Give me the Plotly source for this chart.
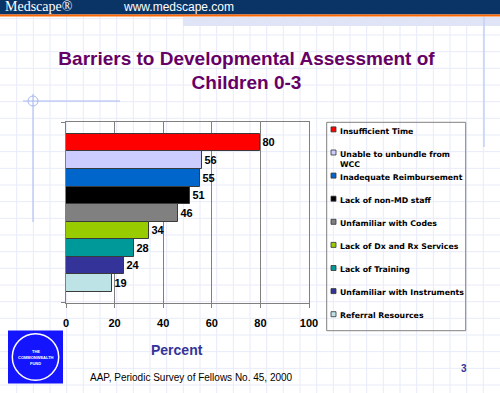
import plotly.graph_objects as go

categories = [
    "Insufficient Time",
    "Unable to unbundle from<br>WCC",
    "Inadequate Reimbursement",
    "Lack of non-MD staff",
    "Unfamiliar with Codes",
    "Lack of Dx and Rx Services",
    "Lack of Training",
    "Unfamiliar with Instruments",
    "Referral Resources",
]
values = [80, 56, 55, 51, 46, 34, 28, 24, 19]
colors = ["#ff0000", "#ccccff", "#0066cc", "#000000", "#808080",
          "#99cc00", "#009999", "#333399", "#bde3e6"]
x_ticks = [0, 20, 40, 60, 80, 100]

W, H = 500, 393
L, R, T, B = 66, 309, 122, 303  # plot area in pixels


def px(x):
    return (x - L) / (R - L)


def py(y):
    return (B - y) / (B - T)


positions = list(range(len(categories)))

fig = go.Figure()
fig.add_trace(go.Bar(
    y=positions, x=values, orientation="h", width=1,
    marker=dict(color=colors, line=dict(color="#3a3a3a", width=1)),
    text=values, textposition="outside", cliponaxis=False,
    textfont=dict(family="Liberation Sans, Arial", size=11, color="#000000", weight="bold"),
    showlegend=False, hoverinfo="skip",
))

shapes = []
# background grid
step = W / 30
segs = []
k = 1
while k * step < W:
    xx = k * step
    segs.append(f"M{px(xx):.5f},{py(0):.5f}L{px(xx):.5f},{py(H):.5f}")
    k += 1
k = 0
while 1.67 + k * step < H:
    yy = 1.67 + k * step
    segs.append(f"M{px(0):.5f},{py(yy):.5f}L{px(W):.5f},{py(yy):.5f}")
    k += 1
shapes.append(dict(type="path", path="".join(segs), xref="paper", yref="paper",
                   line=dict(color="#e8ebf9", width=1), layer="below"))
# header bar
shapes.append(dict(type="rect", xref="paper", yref="paper", x0=px(0), x1=px(W), y0=py(0), y1=py(14.5),
                   fillcolor="#0a3466", line_width=0, layer="below"))
shapes.append(dict(type="rect", xref="paper", yref="paper", x0=px(0), x1=px(W), y0=py(14.5), y1=py(16.5),
                   fillcolor="#ff6600", line_width=0, layer="below"))
# light band top right
shapes.append(dict(type="rect", xref="paper", yref="paper", x0=px(183), x1=px(W), y0=py(17), y1=py(26),
                   fillcolor="#dfe5f6", line_width=0, layer="below"))
# right decorative vertical line
shapes.append(dict(type="line", xref="paper", yref="paper", x0=px(484), x1=px(484), y0=py(17), y1=py(147),
                   line=dict(color="#c5d0f4", width=1.5), layer="below"))
# top-left decorative lines
shapes.append(dict(type="line", xref="paper", yref="paper", x0=px(23), x1=px(120), y0=py(101), y1=py(101),
                   line=dict(color="#a9b8f0", width=1), layer="below"))
shapes.append(dict(type="line", xref="paper", yref="paper", x0=px(33), x1=px(33), y0=py(94), y1=py(222),
                   line=dict(color="#a9b8f0", width=1), layer="below"))
shapes.append(dict(type="circle", xref="paper", yref="paper", x0=px(28), x1=px(38), y0=py(96), y1=py(106),
                   line=dict(color="#a9b8f0", width=1), layer="below"))
# legend box
lx0, lx1, ly0, ly1 = 326.7, 465.7, 122.3, 330.7
shapes.append(dict(type="rect", xref="paper", yref="paper", x0=px(lx0), x1=px(lx1), y0=py(ly0), y1=py(ly1),
                   line=dict(color="#808080", width=1), fillcolor="rgba(0,0,0,0)"))
# logo
shapes.append(dict(type="rect", xref="paper", yref="paper", x0=px(8), x1=px(63), y0=py(330.5), y1=py(383.5),
                   fillcolor="#1414ff", line_width=0))
shapes.append(dict(type="circle", xref="paper", yref="paper", x0=px(12.3), x1=px(58.7), y0=py(333.7), y1=py(380.3),
                   line=dict(color="#ffffff", width=1.5)))

annotations = []
# manual legend
item_y0, item_step = 129.4, 23.1
for i, (name, col) in enumerate(zip(categories, colors)):
    cy = item_y0 + i * item_step
    shapes.append(dict(type="rect", xref="paper", yref="paper", x0=px(331), x1=px(336), y0=py(cy - 2.5),
                       y1=py(cy + 2.5), fillcolor=col, line=dict(color="#333333", width=0.8)))
    annotations.append(dict(text=name, xref="paper", yref="paper", x=px(337.5), y=py(cy - 4.8),
                            xanchor="left", yanchor="top", showarrow=False, align="left",
                            font=dict(family="DejaVu Sans", size=7.8, color="#000000", weight="bold")))

def note(text, x, y, size, color, weight="normal", family="Liberation Sans, Arial", xanchor="center"):
    annotations.append(dict(text=text, xref="paper", yref="paper", x=px(x), y=py(y), xanchor=xanchor,
                            yanchor="middle", showarrow=False,
                            font=dict(family=family, size=size, color=color, weight=weight)))

note("Medscape®", 3, 7, 14, "#ffffff", family="Liberation Serif, Times New Roman", xanchor="left")
note("www.medscape.com", 120.5, 7.5, 12, "#ffffff", xanchor="left")
note("Percent", 177, 350, 14, "#333399", weight="bold")
note("AAP, Periodic Survey of Fellows No. 45, 2000", 88, 377, 10, "#000000", xanchor="left")
note("3", 464, 368.5, 10, "#333399", weight="bold")
note("THE", 35.5, 351, 4, "#ffffff", weight="bold")
note("COMMONWEALTH", 35.5, 357, 4, "#ffffff", weight="bold")
note("FUND", 35.5, 363, 4, "#ffffff", weight="bold")

fig.update_layout(
    width=W, height=H,
    margin=dict(l=L, r=W - R, t=T, b=H - B, pad=0),
    paper_bgcolor="#ffffff", plot_bgcolor="rgba(0,0,0,0)",
    title=dict(text="Barriers to Developmental Assessment of<br>Children 0-3",
               x=246.5 / W, xanchor="center", xref="container",
               y=1 - 64.5 / H, yanchor="middle", yref="container",
               font=dict(family="Liberation Sans, Arial", size=19, color="#660066", weight="bold")),
    xaxis=dict(range=[0, 100], tickvals=x_ticks, showgrid=True, gridcolor="#808080", gridwidth=1,
               showline=True, linecolor="#808080", linewidth=1, mirror=True,
               ticks="outside", ticklen=4, tickcolor="#808080", zeroline=False,
               tickfont=dict(family="Liberation Sans, Arial", size=11, color="#000000", weight="bold"),
               ticklabelstandoff=6),
    yaxis=dict(range=[9.13, -1.18], tickvals=[9.1, -1.15], showticklabels=False, showgrid=False,
               showline=True, linecolor="#808080", linewidth=1, mirror=True,
               ticks="outside", ticklen=4, tickcolor="#808080", zeroline=False),
    bargap=0,
    shapes=shapes, annotations=annotations,
    showlegend=False,
)

fig.write_html("out.html", config={"displayModeBar": False},
               post_script="document.body.style.margin='0';document.body.style.overflow='hidden';")
